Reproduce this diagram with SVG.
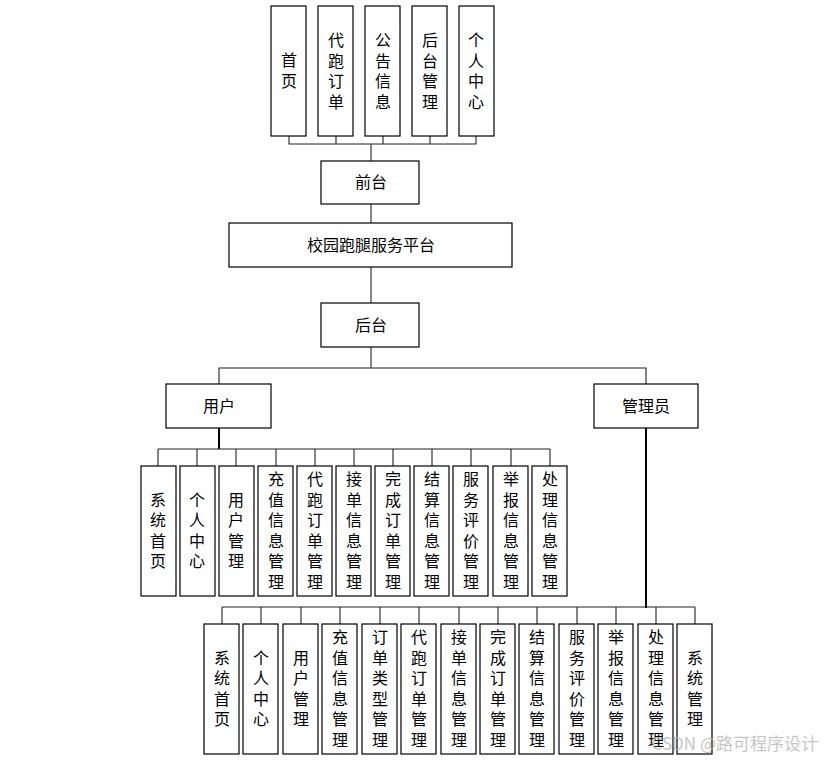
<svg xmlns="http://www.w3.org/2000/svg" width="832" height="762" viewBox="0 0 832 762">
<style>
rect{fill:#fff;stroke:#000;stroke-width:1.2}
text{font-family:"Noto Sans CJK SC","Liberation Sans",sans-serif;font-size:16px;fill:#000;text-anchor:middle}
.c line,.c polyline{stroke:#222;stroke-width:1.1;fill:none}
.c .b{stroke:#000;stroke-width:2}
</style>
<rect x="0" y="0" width="832" height="762" style="stroke:none"/>
<g class="c" id="connectors">
<polyline points="289,136 289,144 476,144 476,136"/>
<line x1="336" y1="136" x2="336" y2="144"/><line x1="383" y1="136" x2="383" y2="144"/><line x1="430" y1="136" x2="430" y2="144"/>
<line x1="371" y1="144" x2="371" y2="161"/>
<line x1="371" y1="204" x2="371" y2="223"/>
<line x1="371" y1="267" x2="371" y2="303"/>
<line x1="371" y1="347" x2="371" y2="368"/>
<polyline points="219,384 219,368 646,368 646,384"/>
<line class="b" x1="219" y1="428" x2="219" y2="449"/>
<line x1="158" y1="449" x2="550" y2="449"/>
<line x1="158" y1="449" x2="158" y2="466"/><line x1="197" y1="449" x2="197" y2="466"/><line x1="236" y1="449" x2="236" y2="466"/><line x1="276" y1="449" x2="276" y2="466"/><line x1="315" y1="449" x2="315" y2="466"/><line x1="354" y1="449" x2="354" y2="466"/><line x1="393" y1="449" x2="393" y2="466"/><line x1="432" y1="449" x2="432" y2="466"/><line x1="471" y1="449" x2="471" y2="466"/><line x1="511" y1="449" x2="511" y2="466"/><line x1="550" y1="449" x2="550" y2="466"/>
<line class="b" x1="646" y1="428" x2="646" y2="608"/>
<line x1="222" y1="607" x2="695" y2="607"/>
<line x1="222" y1="607" x2="222" y2="624"/><line x1="261" y1="607" x2="261" y2="624"/><line x1="301" y1="607" x2="301" y2="624"/><line x1="340" y1="607" x2="340" y2="624"/><line x1="380" y1="607" x2="380" y2="624"/><line x1="419" y1="607" x2="419" y2="624"/><line x1="459" y1="607" x2="459" y2="624"/><line x1="498" y1="607" x2="498" y2="624"/><line x1="537" y1="607" x2="537" y2="624"/><line x1="577" y1="607" x2="577" y2="624"/><line x1="616" y1="607" x2="616" y2="624"/><line x1="656" y1="607" x2="656" y2="624"/><line x1="695" y1="607" x2="695" y2="624"/>
</g>
<g id="top">
<g id="n-shouye"><rect x="271" y="6" width="35" height="130"/><text x="289"><tspan x="289" y="66">首</tspan><tspan x="289" y="87">页</tspan></text></g>
<g id="n-daipao"><rect x="318" y="6" width="35" height="130"/><text><tspan x="336" y="46">代</tspan><tspan x="336" y="67">跑</tspan><tspan x="336" y="87">订</tspan><tspan x="336" y="108">单</tspan></text></g>
<g id="n-gonggao"><rect x="365" y="6" width="35" height="130"/><text><tspan x="383" y="46">公</tspan><tspan x="383" y="67">告</tspan><tspan x="383" y="87">信</tspan><tspan x="383" y="108">息</tspan></text></g>
<g id="n-houtaiguanli"><rect x="412" y="6" width="35" height="130"/><text><tspan x="430" y="46">后</tspan><tspan x="430" y="67">台</tspan><tspan x="430" y="87">管</tspan><tspan x="430" y="108">理</tspan></text></g>
<g id="n-geren"><rect x="459" y="6" width="35" height="130"/><text><tspan x="476" y="46">个</tspan><tspan x="476" y="67">人</tspan><tspan x="476" y="87">中</tspan><tspan x="476" y="108">心</tspan></text></g>
</g>
<g id="n-qiantai"><rect x="321" y="161" width="98" height="43"/><text x="371" y="188">前台</text></g>
<g id="n-platform"><rect x="229" y="223" width="283" height="44"/><text x="371" y="251">校园跑腿服务平台</text></g>
<g id="n-houtai"><rect x="321" y="303" width="98" height="44"/><text x="371" y="331">后台</text></g>
<g id="n-user"><rect x="166" y="384" width="105" height="44"/><text x="219" y="412">用户</text></g>
<g id="n-admin"><rect x="594" y="384" width="104" height="44"/><text x="646" y="412">管理员</text></g>
<g id="user-items">
<g id="u1"><rect x="141" y="466" width="35" height="130"/><text><tspan x="158" y="506">系</tspan><tspan x="158" y="526">统</tspan><tspan x="158" y="547">首</tspan><tspan x="158" y="567">页</tspan></text></g>
<g id="u2"><rect x="180" y="466" width="35" height="130"/><text><tspan x="197" y="506">个</tspan><tspan x="197" y="526">人</tspan><tspan x="197" y="547">中</tspan><tspan x="197" y="567">心</tspan></text></g>
<g id="u3"><rect x="219" y="466" width="35" height="130"/><text><tspan x="236" y="506">用</tspan><tspan x="236" y="526">户</tspan><tspan x="236" y="547">管</tspan><tspan x="236" y="567">理</tspan></text></g>
<g id="u4"><rect x="258" y="466" width="35" height="130"/><text><tspan x="276" y="485">充</tspan><tspan x="276" y="506">值</tspan><tspan x="276" y="526">信</tspan><tspan x="276" y="547">息</tspan><tspan x="276" y="567">管</tspan><tspan x="276" y="588">理</tspan></text></g>
<g id="u5"><rect x="297" y="466" width="35" height="130"/><text><tspan x="315" y="485">代</tspan><tspan x="315" y="506">跑</tspan><tspan x="315" y="526">订</tspan><tspan x="315" y="547">单</tspan><tspan x="315" y="567">管</tspan><tspan x="315" y="588">理</tspan></text></g>
<g id="u6"><rect x="336" y="466" width="35" height="130"/><text><tspan x="354" y="485">接</tspan><tspan x="354" y="506">单</tspan><tspan x="354" y="526">信</tspan><tspan x="354" y="547">息</tspan><tspan x="354" y="567">管</tspan><tspan x="354" y="588">理</tspan></text></g>
<g id="u7"><rect x="375" y="466" width="35" height="130"/><text><tspan x="393" y="485">完</tspan><tspan x="393" y="506">成</tspan><tspan x="393" y="526">订</tspan><tspan x="393" y="547">单</tspan><tspan x="393" y="567">管</tspan><tspan x="393" y="588">理</tspan></text></g>
<g id="u8"><rect x="414" y="466" width="35" height="130"/><text><tspan x="432" y="485">结</tspan><tspan x="432" y="506">算</tspan><tspan x="432" y="526">信</tspan><tspan x="432" y="547">息</tspan><tspan x="432" y="567">管</tspan><tspan x="432" y="588">理</tspan></text></g>
<g id="u9"><rect x="453" y="466" width="35" height="130"/><text><tspan x="471" y="485">服</tspan><tspan x="471" y="506">务</tspan><tspan x="471" y="526">评</tspan><tspan x="471" y="547">价</tspan><tspan x="471" y="567">管</tspan><tspan x="471" y="588">理</tspan></text></g>
<g id="u10"><rect x="493" y="466" width="35" height="130"/><text><tspan x="511" y="485">举</tspan><tspan x="511" y="506">报</tspan><tspan x="511" y="526">信</tspan><tspan x="511" y="547">息</tspan><tspan x="511" y="567">管</tspan><tspan x="511" y="588">理</tspan></text></g>
<g id="u11"><rect x="532" y="466" width="35" height="130"/><text><tspan x="550" y="485">处</tspan><tspan x="550" y="506">理</tspan><tspan x="550" y="526">信</tspan><tspan x="550" y="547">息</tspan><tspan x="550" y="567">管</tspan><tspan x="550" y="588">理</tspan></text></g>
</g>
<g id="admin-items">
<g id="a1"><rect x="204" y="624" width="35" height="130"/><text><tspan x="222" y="664">系</tspan><tspan x="222" y="684">统</tspan><tspan x="222" y="705">首</tspan><tspan x="222" y="725">页</tspan></text></g>
<g id="a2"><rect x="243" y="624" width="35" height="130"/><text><tspan x="261" y="664">个</tspan><tspan x="261" y="684">人</tspan><tspan x="261" y="705">中</tspan><tspan x="261" y="725">心</tspan></text></g>
<g id="a3"><rect x="283" y="624" width="35" height="130"/><text><tspan x="301" y="664">用</tspan><tspan x="301" y="684">户</tspan><tspan x="301" y="705">管</tspan><tspan x="301" y="725">理</tspan></text></g>
<g id="a4"><rect x="322" y="624" width="35" height="130"/><text><tspan x="340" y="643">充</tspan><tspan x="340" y="664">值</tspan><tspan x="340" y="684">信</tspan><tspan x="340" y="705">息</tspan><tspan x="340" y="725">管</tspan><tspan x="340" y="746">理</tspan></text></g>
<g id="a5"><rect x="362" y="624" width="35" height="130"/><text><tspan x="380" y="643">订</tspan><tspan x="380" y="664">单</tspan><tspan x="380" y="684">类</tspan><tspan x="380" y="705">型</tspan><tspan x="380" y="725">管</tspan><tspan x="380" y="746">理</tspan></text></g>
<g id="a6"><rect x="401" y="624" width="35" height="130"/><text><tspan x="419" y="643">代</tspan><tspan x="419" y="664">跑</tspan><tspan x="419" y="684">订</tspan><tspan x="419" y="705">单</tspan><tspan x="419" y="725">管</tspan><tspan x="419" y="746">理</tspan></text></g>
<g id="a7"><rect x="441" y="624" width="35" height="130"/><text><tspan x="459" y="643">接</tspan><tspan x="459" y="664">单</tspan><tspan x="459" y="684">信</tspan><tspan x="459" y="705">息</tspan><tspan x="459" y="725">管</tspan><tspan x="459" y="746">理</tspan></text></g>
<g id="a8"><rect x="480" y="624" width="35" height="130"/><text><tspan x="498" y="643">完</tspan><tspan x="498" y="664">成</tspan><tspan x="498" y="684">订</tspan><tspan x="498" y="705">单</tspan><tspan x="498" y="725">管</tspan><tspan x="498" y="746">理</tspan></text></g>
<g id="a9"><rect x="519" y="624" width="35" height="130"/><text><tspan x="537" y="643">结</tspan><tspan x="537" y="664">算</tspan><tspan x="537" y="684">信</tspan><tspan x="537" y="705">息</tspan><tspan x="537" y="725">管</tspan><tspan x="537" y="746">理</tspan></text></g>
<g id="a10"><rect x="559" y="624" width="35" height="130"/><text><tspan x="577" y="643">服</tspan><tspan x="577" y="664">务</tspan><tspan x="577" y="684">评</tspan><tspan x="577" y="705">价</tspan><tspan x="577" y="725">管</tspan><tspan x="577" y="746">理</tspan></text></g>
<g id="a11"><rect x="598" y="624" width="35" height="130"/><text><tspan x="616" y="643">举</tspan><tspan x="616" y="664">报</tspan><tspan x="616" y="684">信</tspan><tspan x="616" y="705">息</tspan><tspan x="616" y="725">管</tspan><tspan x="616" y="746">理</tspan></text></g>
<g id="a12"><rect x="638" y="624" width="35" height="130"/><text><tspan x="656" y="643">处</tspan><tspan x="656" y="664">理</tspan><tspan x="656" y="684">信</tspan><tspan x="656" y="705">息</tspan><tspan x="656" y="725">管</tspan><tspan x="656" y="746">理</tspan></text></g>
<g id="a13"><rect x="677" y="624" width="35" height="130"/><text><tspan x="695" y="664">系</tspan><tspan x="695" y="684">统</tspan><tspan x="695" y="705">管</tspan><tspan x="695" y="725">理</tspan></text></g>
</g>
<text x="818" y="750" style="text-anchor:end;font-size:17px;fill:#bbb;fill-opacity:0.85">CSDN @路可程序设计</text>
</svg>
